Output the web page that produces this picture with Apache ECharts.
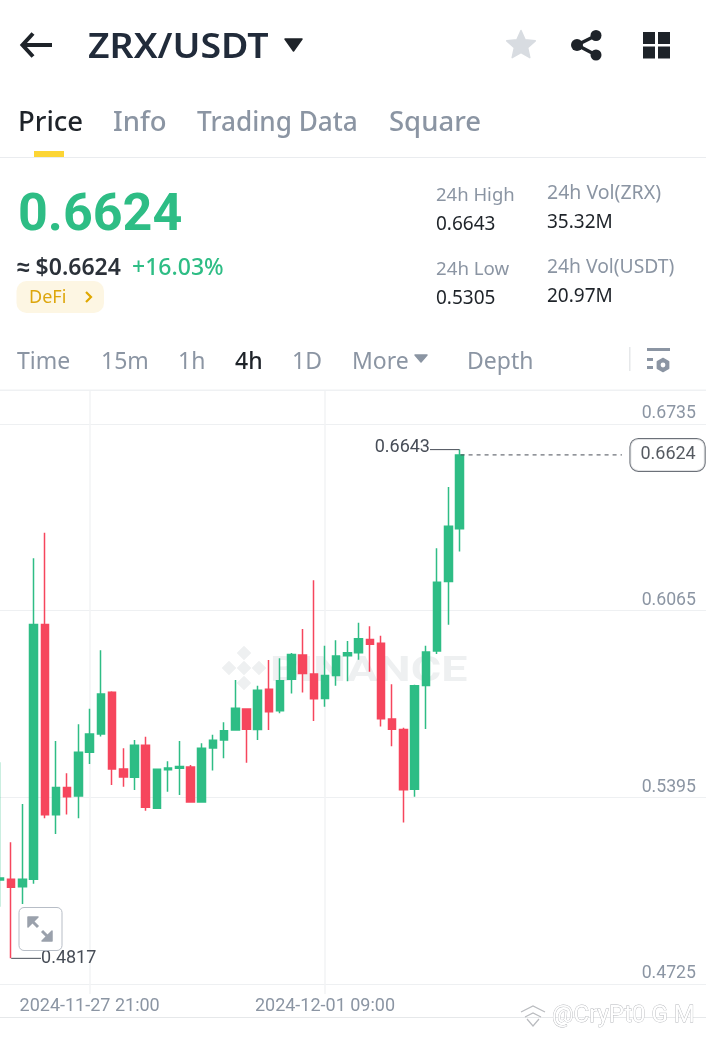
<!DOCTYPE html>
<html><head><meta charset="utf-8">
<style>html,body{margin:0;padding:0;background:#fff}#c{width:706px;height:1038px}</style>
<script src="https://cdn.jsdelivr.net/npm/echarts@6/dist/echarts.min.js"></script>
</head><body><div id="c"></div>
<script>
const times = ['11-26 13:00','11-26 17:00','11-26 21:00','11-27 01:00','11-27 05:00','11-27 09:00','11-27 13:00','11-27 17:00',
 '2024-11-27 21:00','11-28 01:00','11-28 05:00','11-28 09:00','11-28 13:00','11-28 17:00','11-28 21:00','11-29 01:00','11-29 05:00','11-29 09:00','11-29 13:00','11-29 17:00','11-29 21:00',
 '11-30 01:00','11-30 05:00','11-30 09:00','11-30 13:00','11-30 17:00','11-30 21:00','12-01 01:00','12-01 05:00',
 '2024-12-01 09:00','12-01 13:00','12-01 17:00','12-01 21:00','12-02 01:00','12-02 05:00','12-02 09:00','12-02 13:00','12-02 17:00','12-02 21:00','12-03 01:00','12-03 05:00','12-03 09:00'];
const futureSlots = 22;
const opens = [.5098,.5101,.5074,.5101,.6015,.5332,.5430,.5400,.5557,.5622,.5772,.5497,.5467,.5582,.5356,.5494,.5499,.5504,.5378,.5572,.5601,.5637,.5712,.5638,.5783,.5706,.5819,.5906,.5838,.5750,.5832,.5903,.5914,.5961,.5948,.5676,.5638,.5424,.5796,.5920,.6170,.6359];
const closes = [.5105,.5072,.5101,.6015,.5332,.5430,.5397,.5557,.5622,.5766,.5497,.5468,.5582,.5359,.5496,.5500,.5506,.5378,.5571,.5600,.5634,.5715,.5639,.5779,.5702,.5813,.5908,.5839,.5749,.5832,.5902,.5914,.5964,.5944,.5677,.5639,.5422,.5795,.5917,.6167,.6368,.6624];
const lows = [.5002,.4817,.5012,.5085,.5320,.5263,.5333,.5320,.5515,.5613,.5439,.5433,.5421,.5347,.5354,.5415,.5403,.5376,.5378,.5491,.5535,.5634,.5519,.5601,.5637,.5697,.5768,.5771,.5669,.5720,.5795,.5812,.5889,.5846,.5649,.5578,.5305,.5397,.5640,.5909,.6014,.6277];
const highs = [.5521,.5234,.5371,.6253,.6345,.5597,.5481,.5657,.5713,.5923,.5776,.5571,.5601,.5612,.5496,.5524,.5597,.5511,.5589,.5620,.5664,.5816,.5715,.5795,.5888,.5894,.5913,.5999,.6174,.5939,.5959,.5956,.6022,.6009,.5975,.5801,.5645,.5799,.5939,.6289,.6509,.6643];
const priceTicks = [0.4725, 0.5395, 0.6065, 0.6735];
const timeLabelIndex = [8, 29];
const highMark = 0.6643, lowMark = 0.4817, lastPrice = 0.6624;

const UP='#2EBD85', DOWN='#F6465D', DARK='#1E2329', INK='#474D57', GREY='#8B95A3', GRIDC='#EEF0F2';
const UI='"Noto Sans",sans-serif', NUM='Roboto,sans-serif';
const allCats = times.concat(new Array(futureSlots).fill(''));
const candles = times.map((t,i)=>[opens[i],closes[i],lows[i],highs[i]]);
const Z=(z)=>z==null?10:z;

function txt(x,y,text,size,fill,weight,font,z){return {type:'text',z:Z(z),silent:true,style:{x,y,text,fontSize:size,fill,fontWeight:weight||400,fontFamily:font||UI,textVerticalAlign:'middle',textAlign:'left'}};}
function rect(x,y,w,h,fill,r,z){return {type:'rect',z:Z(z),silent:true,shape:{x,y,width:w,height:h,r:r||0},style:{fill}};}
function poly(points,fill,z){return {type:'polygon',z:Z(z),silent:true,shape:{points},style:{fill,stroke:fill,lineWidth:1.5,lineJoin:'round'}};}
function pline(points,stroke,w,z){return {type:'polyline',z:Z(z),silent:true,shape:{points},style:{stroke,lineWidth:w,fill:null,lineJoin:'miter',lineCap:'butt'}};}
function starPts(cx,cy,R,r){const p=[];for(let k=0;k<10;k++){const a=-Math.PI/2+k*Math.PI/5,q=k%2?r:R;p.push([cx+q*Math.cos(a),cy+q*Math.sin(a)]);}return p;}
function hexPts(cx,cy,R){const p=[];for(let k=0;k<6;k++){const a=Math.PI/2+k*Math.PI/3;p.push([cx+R*Math.cos(a),cy+R*Math.sin(a)]);}return p;}
function wmLogo(cx,cy,s,fill){return [[0,-1],[1,0],[0,1],[-1,0]].map(d=>poly([[cx+d[0]*s*1.0,cy+d[1]*s*1.0-s*.42],[cx+d[0]*s*1.0+s*.42,cy+d[1]*s*1.0],[cx+d[0]*s*1.0,cy+d[1]*s*1.0+s*.42],[cx+d[0]*s*1.0-s*.42,cy+d[1]*s*1.0]],fill,1)).concat([poly([[cx,cy-s*.42],[cx+s*.42,cy],[cx,cy+s*.42],[cx-s*.42,cy]],fill,1)]);}

const graphics = [
 // header
 pline([[33,33.5],[22.5,45],[33,56.5]],DARK,4), pline([[23,45],[52,45]],DARK,4),
 {type:'text',z:10,silent:true,x:88,y:48.5,scaleX:1.07,style:{x:0,y:0,text:'ZRX/USDT',fontSize:35,fontWeight:600,fontFamily:UI,fill:'#212B3A',textVerticalAlign:'middle'}},
 poly([[285,39],[302,39],[293.5,51]],DARK),
 poly(starPts(521,45.5,15,7),'#D8DCE1'),
 pline([[596,35.5],[577,45],[596,55]],DARK,3.5),
 {type:'circle',z:10,silent:true,shape:{cx:596,cy:35.5,r:5.5},style:{fill:DARK}},
 {type:'circle',z:10,silent:true,shape:{cx:577,cy:45,r:6},style:{fill:DARK}},
 {type:'circle',z:10,silent:true,shape:{cx:596,cy:55,r:5.5},style:{fill:DARK}},
 rect(643,32,12,12,DARK),rect(658,32,12,12,DARK),rect(643,46.5,12,12,DARK),rect(658,46.5,12,12,DARK),
 // tabs
 txt(18,123,'Price',27.5,DARK,500), txt(113,123,'Info',27.5,GREY,500), txt(197,124,'Trading Data',26.2,GREY,500), txt(389,123,'Square',27.5,GREY,500),
 rect(34,151,30,6,'#FCD535'), rect(0,157,706,1,'#EAECEF'),
 // price block
 txt(18,217,'0.6624',52,UP,700,NUM),
 txt(17,268,'≈ $0.6624',23,'#2B3139',600), txt(132,268,'+16.03%',23,UP,500),
 rect(16.5,281,87.5,32,'#FDF6E3',10),
 txt(29,298,'DeFi',18,'#DDA60C',400),
 pline([[86,292],[91,297],[86,302]],'#E0A800',2.2),
 txt(436,195.5,'24h High',18.5,GREY), txt(436,224.5,'0.6643',19,DARK),
 txt(436,269.5,'24h Low',18.7,GREY), txt(436,298.5,'0.5305',19,DARK),
 txt(547,193.5,'24h Vol(ZRX)',19.5,GREY), txt(547,222.5,'35.32M',19,DARK),
 txt(547,267.5,'24h Vol(USDT)',19.3,GREY), txt(547,296.5,'20.97M',19,DARK),
 // intervals
 txt(17,362.5,'Time',23,GREY), txt(101,362.5,'15m',23,GREY), txt(178,362.5,'1h',23,GREY), txt(235,362.5,'4h',23,DARK,500),
 txt(292,362.5,'1D',23,GREY), txt(352,362.5,'More',23,GREY), poly([[415,355],[427,355],[421,362]],GREY), txt(467,362.5,'Depth',23,GREY),
 rect(629,347,1.5,24,'#E6E8EA'),
 rect(647,348,23,3,GREY), rect(647,358,6,3,GREY), rect(647,366,6,3,GREY),
 poly(hexPts(663,365,6.5),GREY), {type:'circle',z:11,silent:true,shape:{cx:663,cy:365,r:2.4},style:{fill:'#fff'}},
 rect(0,389.5,706,1.5,'#EFF1F3'),
 rect(0,1017,706,1,'#E6E8EA'),
 // watermark in chart
 ...wmLogo(244,668,15,'#EEF0F1'),
 {type:'text',z:1,silent:true,x:270,y:672,scaleX:1.33,style:{x:0,y:0,text:'BINANCE',fontSize:35,fontWeight:700,fontFamily:NUM,fill:'#EEF0F1',textVerticalAlign:'middle'}},
 // expand button
 {type:'rect',z:20,silent:true,shape:{x:19,y:907.5,width:43,height:43,r:5},style:{fill:'#fff',stroke:'#B7BDC6',lineWidth:1}},
 poly([[28,917],[38,917],[28,927]],'#9AA1AC',21), pline([[31,920],[38,927]],'#9AA1AC',3,21),
 poly([[52,941],[42,941],[52,931]],'#9AA1AC',21), pline([[49,938],[42,931]],'#9AA1AC',3,21),
 // corner watermark
 ...[0,1].map(k=>pline([[521+k*4,1012+k*5],[533,1006+k*7],[545-k*4,1012+k*5]],'#B9BBBF',1.2,12)),
 pline([[527,1019],[533,1026],[539,1019]],'#B9BBBF',1.2,12),
 {type:'text',z:12,silent:true,style:{x:552,y:1016,text:'@CryPt0 G M',fontSize:24,fontFamily:NUM,fill:'#fff',stroke:'#B5B7BB',lineWidth:.8,textVerticalAlign:'middle'}}
];

const numLabel={fontFamily:NUM,fontSize:18,color:INK};
const option={
 animation:false, backgroundColor:'#fff',
 graphic:graphics,
 grid:{left:0,right:0,top:390,bottom:44,containLabel:false,outerBoundsMode:'none'},
 xAxis:[{type:'category',data:allCats,boundaryGap:false,
   axisLine:{show:false},axisTick:{show:false},
   axisLabel:{show:true,interval:0,formatter:(v,i)=>timeLabelIndex.includes(i)?v:'',color:GREY,fontFamily:NUM,fontSize:18,margin:3,lineHeight:18,hideOverlap:false},
   splitLine:{show:true,interval:(i)=>timeLabelIndex.includes(i),lineStyle:{color:'#F2F3F5',width:1.5}}},
  {type:'value',min:0,max:allCats.length-1,show:false,splitLine:{show:false}}],
 yAxis:{type:'value',position:'right',min:0.4689,max:0.6857,scale:true,
   axisLine:{show:false},
   axisTick:{show:false,customValues:priceTicks},
   axisLabel:{inside:true,customValues:priceTicks,formatter:v=>v.toFixed(4),color:GREY,fontFamily:NUM,fontSize:17.7,verticalAlign:'bottom',align:'right',margin:10,padding:[0,0,1,0],showMinLabel:true,showMaxLabel:true},
   splitLine:{show:true,lineStyle:{color:GRIDC,width:1}}},
 series:[
  {type:'candlestick',data:candles,barWidth:8,clip:false,z:3,
   itemStyle:{color:UP,color0:DOWN,borderColor:UP,borderColor0:DOWN,borderWidth:1.5}},
  {type:'line',xAxisIndex:1,yAxisIndex:0,z:4,symbol:'circle',symbolSize:0,showSymbol:true,showAllSymbol:true,silent:true,
   lineStyle:{color:INK,width:1},
   data:[{value:[38.37,highMark],label:{show:true,position:'left',distance:0,offset:[0,-2],formatter:highMark.toFixed(4),...numLabel}},{value:[41,highMark]}]},
  {type:'line',xAxisIndex:1,yAxisIndex:0,z:4,symbol:'circle',symbolSize:0,showSymbol:true,showAllSymbol:true,silent:true,
   lineStyle:{color:INK,width:1},
   data:[{value:[1,lowMark]},{value:[3.66,lowMark],label:{show:true,position:'right',distance:0,formatter:lowMark.toFixed(4),...numLabel}}]},
  {type:'line',xAxisIndex:1,yAxisIndex:0,z:4,symbol:'none',silent:true,
   lineStyle:{color:INK,width:1,type:[4,4]},
   data:[[41.1,lastPrice],[55.5,lastPrice]]},
  {type:'scatter',xAxisIndex:1,yAxisIndex:0,z:5,symbolSize:0,silent:true,
   data:[[59.57,lastPrice]],
   label:{show:true,position:'inside',formatter:lastPrice.toFixed(4),fontFamily:NUM,fontSize:18,color:'#2B3139',backgroundColor:'#fff',borderColor:INK,borderWidth:1,borderRadius:8,padding:[8,9,6,10]}}
 ]
};
const chart=echarts.init(document.getElementById('c'),null,{renderer:'canvas',width:706,height:1038});
chart.setOption(option);
</script></body></html>
